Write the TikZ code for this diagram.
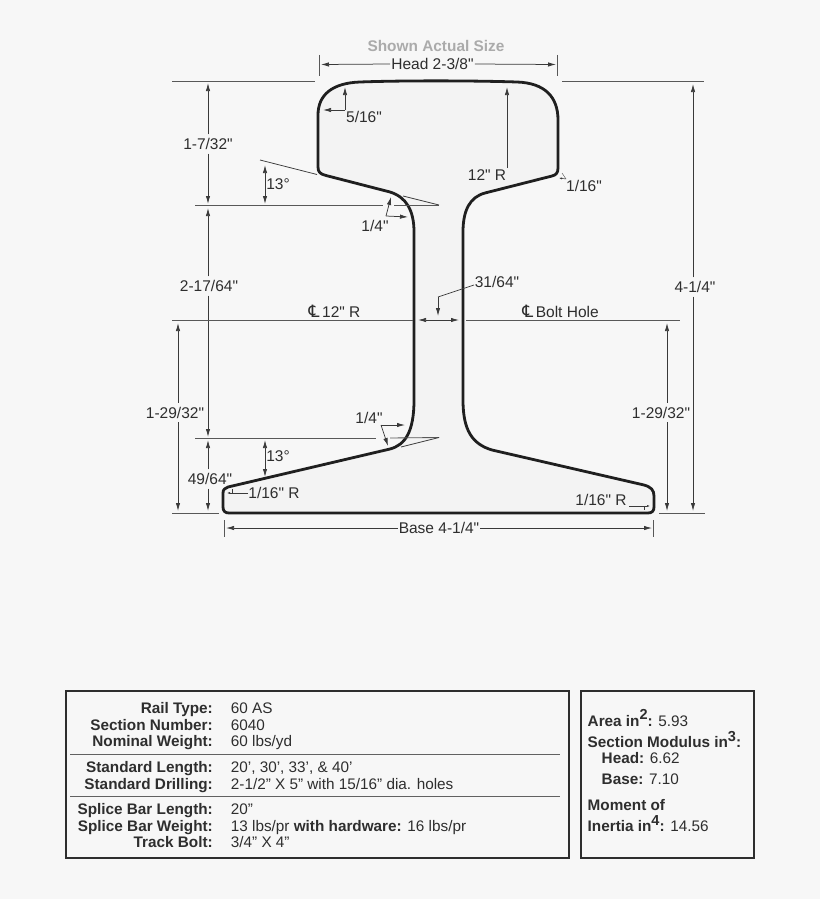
\documentclass[tikz,border=0pt]{standalone}
\usepackage{fontspec}
\newfontfamily\lsans{Liberation Sans}
\newfontfamily\clfont{DejaVu Sans}
\usetikzlibrary{arrows.meta}
\definecolor{bgc}{HTML}{F7F7F7}
\definecolor{railfill}{HTML}{F3F3F3}
\definecolor{ink}{HTML}{2E2E2E}
\definecolor{dimc}{HTML}{3A3A3A}
\newcommand{\sq}[1]{\raisebox{0.40em}{\fontsize{14.5}{15}\selectfont\bfseries #1}}
\newcommand{\cl}{{\clfont\fontsize{17}{17}\selectfont ℄}}
\tikzset{
  x=1pt,y=-1pt,
  lbl/.style={font=\lsans\fontsize{15.5}{17}\selectfont,text=ink,inner sep=1pt,outer ysep=3pt},
  key/.style={lbl,anchor=base east,font=\lsans\fontsize{15.3}{17}\selectfont\bfseries},
  val/.style={lbl,anchor=base west,font=\lsans\fontsize{15.3}{17}\selectfont},
  lft/.style={lbl,anchor=base west,font=\lsans\fontsize{15.3}{17}\selectfont},
  dimline/.style={draw=dimc,line width=0.75pt},
  ext/.style={draw=dimc!85,line width=0.85pt},
  tip/.style={dimline,-{Latex[length=8pt,width=4.4pt]}},
  tiptip/.style={dimline,{Latex[length=8pt,width=4.4pt]}-{Latex[length=8pt,width=4.4pt]}},
  smalltip/.style={draw=dimc,line width=0.5pt,-{Latex[length=3pt,width=2pt]}},
  railshape/.style={draw=black!88,line width=2.8pt,fill=railfill,line join=round},
  boxframe/.style={draw=ink,line width=1.9pt},
  rule/.style={draw=dimc!80,line width=0.85pt}
}
\begin{document}
\begin{tikzpicture}
\useasboundingbox[fill=bgc] (0,0) rectangle (820,899);
% rail
\path[railshape] (360,82) .. controls (400,80.5) and (470,80.5) .. (517,82)
 .. controls (545,83) and (558,97) .. (558,120) -- (558,168)
 .. controls (558,173) and (556,175) .. (552,176) -- (485,193)
 .. controls (470,197) and (463,210) .. (463,232) -- (463,400)
 .. controls (463,430) and (472,444) .. (492,450) -- (644,485)
 .. controls (651,487) and (654,490) .. (654,496) -- (654,507)
 .. controls (654,511) and (652,513) .. (648,513) -- (229,513)
 .. controls (225,513) and (223,511) .. (223,507) -- (223,493)
 .. controls (223,489.5) and (225,488) .. (228,487) -- (390,449)
 .. controls (405,445) and (414,432) .. (414,400) -- (414,232)
 .. controls (414,210) and (406,197) .. (390,192) -- (326,175.5)
 .. controls (320,174) and (318,172) .. (318,167) -- (318,115)
 .. controls (318,95) and (332,83) .. (360,82) -- cycle;
% coordinates
\coordinate (htl) at (319,55); \coordinate (hbl) at (319,76);
\coordinate (htr) at (557,55); \coordinate (hbr) at (557,76);
\coordinate (hl) at (321,64.5); \coordinate (hr) at (556,64.5);
\coordinate (tl1) at (172,81); \coordinate (tl2) at (315,81);
\coordinate (tr1) at (562,81); \coordinate (tr2) at (704,81);
\coordinate (a) at (208,83); \coordinate (b) at (208,204); \coordinate (c) at (208,208); \coordinate (d) at (208,437);
\coordinate (l1) at (195,205); \coordinate (l2) at (383,205); \coordinate (l3) at (394,205); \coordinate (l4) at (439,205);
\coordinate (s1) at (260,160); \coordinate (s2) at (317,174.5); \coordinate (s3) at (403,196); 
\coordinate (u1) at (265,165); \coordinate (u2) at (265,204);
\coordinate (fa) at (345,110); \coordinate (fb) at (323,110); \coordinate (fc) at (345,87);
\coordinate (qa) at (386,216); \coordinate (qb) at (391,197); \coordinate (qc) at (408,217);
\coordinate (m1) at (195,438); \coordinate (m2) at (376,438); \coordinate (m3) at (390,438); \coordinate (m4) at (439,437.5);
\coordinate (m5) at (401,447);
\coordinate (c1) at (172,320); \coordinate (c2) at (413,320); \coordinate (c3) at (466,320); \coordinate (c4) at (680,320);
\coordinate (w1) at (418,320); \coordinate (w2) at (459,320);
\coordinate (wa) at (474,285); \coordinate (wb) at (438,297); \coordinate (wc) at (438,316);
\coordinate (e) at (178,323); \coordinate (f) at (178,511); \coordinate (bl1) at (172,513); \coordinate (bl2) at (219,513);
\coordinate (g) at (208,440); \coordinate (h) at (208,511);
\coordinate (v1) at (265,440); \coordinate (v2) at (265,477);
\coordinate (ra) at (381,425); \coordinate (rb) at (405,425); \coordinate (rc) at (388,446);
\coordinate (ka) at (507,168); \coordinate (kb) at (507,87);
\coordinate (j) at (693,84); \coordinate (k) at (693,511); \coordinate (br1) at (659,513); \coordinate (br2) at (705,513);
\coordinate (n) at (667,323); \coordinate (o) at (667,511);
\coordinate (btl) at (224,520); \coordinate (bbl) at (224,537); \coordinate (btr) at (653,520); \coordinate (bbr) at (653,537);
\coordinate (bal) at (226,528); \coordinate (bar) at (652,528);
\coordinate (pa) at (248,493); \coordinate (pb) at (227,493); \coordinate (pc) at (232,489); \coordinate (pd) at (232,493);
\coordinate (ya) at (629,506); \coordinate (yb) at (650,506); \coordinate (yc) at (644,506); \coordinate (yd) at (644,510);
\coordinate (za) at (566,179); \coordinate (zb) at (559,178); \coordinate (zc) at (566,179); \coordinate (zd) at (562,173);
% labels
\node[font=\lsans\fontsize{15.4}{17}\selectfont\bfseries,text=black!33,inner sep=1pt] (title) at (436,46) {Shown Actual Size};
\node[lbl] (thead) at (432.5,64) {Head 2-3/8"};
\node[lbl] (t17) at (208,144) {1-7/32"};
\node[lbl] (t217) at (209,286) {2-17/64"};
\node[lbl] (t13a) at (278,184) {13°};
\node[lbl] (t516) at (364,117) {5/16"};
\node[lbl] (t14a) at (375,226) {1/4"};
\node[lbl] (t3164) at (497,282) {31/64"};
\node[lbl] (tcl1) at (334.5,311) {\cl\,12" R};
\node[lbl] (tcl2) at (560.5,311) {\cl\,Bolt Hole};
\node[lbl] (t129l) at (175,412.5) {1-29/32"};
\node[lbl] (t4964) at (210,479) {49/64"};
\node[lbl] (t13b) at (278,456) {13°};
\node[lbl] (t116r) at (274,493) {1/16" R};
\node[lbl] (t14b) at (369,418) {1/4"};
\node[lbl] (t12r) at (487,175) {12" R};
\node[lbl] (t116) at (584,186) {1/16"};
\node[lbl] (t414) at (695,287) {4-1/4"};
\node[lbl] (t129r) at (661,412.5) {1-29/32"};
\node[lbl] (tbase) at (439,528) {Base 4-1/4"};
\node[lbl] (t116b) at (601,500) {1/16" R};
% connectors
\draw[ext] (htl)--(hbl); \draw[ext] (htr)--(hbr);
\draw[tip] (thead.west)--(hl); \draw[tip] (thead.east)--(hr);
\draw[ext] (tl1)--(tl2); \draw[ext] (tr1)--(tr2);
\draw[tip] (t17.north-|a)--(a); \draw[tip] (t17.south-|a)--(b);
\draw[ext] (l1)--(l2); \draw[ext] (l3)--(l4);
\draw[dimline] (s1)--(s2); \draw[dimline] (s3)--(l4);
\draw[tiptip] (u1)--(u2);
\draw[tip] (fa)--(fb); \draw[tip] (fa)--(fc);
\draw[tip] (qa)--(qb); \draw[tip] (qa)--(qc);
\draw[tip] (t217.north-|c)--(c); \draw[tip] (t217.south-|c)--(d);
\draw[ext] (m1)--(m2); \draw[ext] (m3)--(m4); \draw[dimline] (m5)--(m4);
\draw[ext] (c1)--(c2); \draw[ext] (c3)--(c4);
\draw[tiptip] (w1)--(w2);
\draw[dimline] (wa)--(wb); \draw[tip] (wb)--(wc);
\draw[tip] (t129l.north-|e)--(e); \draw[tip] (t129l.south-|e)--(f);
\draw[ext] (bl1)--(bl2);
\draw[tip] (t4964.north-|g)--(g); \draw[tip] (t4964.south-|g)--(h);
\draw[tiptip] (v1)--(v2);
\draw[tip] (ra)--(rb); \draw[tip] (ra)--(rc);
\draw[tip] (ka)--(kb);
\draw[tip] (t414.north-|j)--(j); \draw[tip] (t414.south-|j)--(k);
\draw[ext] (br1)--(br2);
\draw[tip] (t129r.north-|n)--(n); \draw[tip] (t129r.south-|n)--(o);
\draw[ext] (btl)--(bbl); \draw[ext] (btr)--(bbr);
\draw[tip] (tbase.west)--(bal); \draw[tip] (tbase.east)--(bar);
\draw[smalltip] (pa)--(pb); \draw[draw=dimc,line width=0.4pt] (pc)--(pd);
\draw[smalltip] (ya)--(yb); \draw[draw=dimc,line width=0.4pt] (yc)--(yd);
\draw[smalltip] (za)--(zb); \draw[draw=dimc,line width=0.4pt] (zc)--(zd);
% left table
\path[boxframe] (66,691) rectangle (569,858);
\path[rule] (70,754)--(560,754);
\path[rule] (70,796.5)--(560,796.5);
\node[key] (k1) at (214,713.3) {Rail Type:}; \node[val] (v1t) at (229.7,713.3) {60 AS};
\node[key] (k2) at (214,730) {Section Number:}; \node[val] (v2t) at (229.7,730) {6040};
\node[key] (k3) at (214,746.7) {Nominal Weight:}; \node[val] (v3t) at (229.7,746.7) {60 lbs/yd};
\node[key] (k4) at (214,772.3) {Standard Length:}; \node[val] (v4t) at (229.7,772.3) {20’, 30’, 33’, \& 40’};
\node[key] (k5) at (214,789) {Standard Drilling:}; \node[val] (v5t) at (229.7,789) {2-1/2” X 5” with 15/16” dia. holes};
\node[key] (k6) at (214,814) {Splice Bar Length:}; \node[val] (v6t) at (229.7,814) {20”};
\node[key] (k7) at (214,831) {Splice Bar Weight:}; \node[val] (v7t) at (229.7,831) {13 lbs/pr \textbf{with hardware:} 16 lbs/pr};
\node[key] (k8) at (214,847.7) {Track Bolt:}; \node[val] (v8t) at (229.7,847.7) {3/4” X 4”};
% right table
\path[boxframe] (581,691) rectangle (754,858);
\node[lft] (r1) at (586.5,726) {\textbf{Area in\sq{2}:} 5.93};
\node[lft] (r2) at (586.5,747.3) {\textbf{Section Modulus in\sq{3}:}};
\node[lft] (r3) at (600.5,763.3) {\textbf{Head:} 6.62};
\node[lft] (r4) at (600.5,784.7) {\textbf{Base:} 7.10};
\node[lft] (r5) at (586.5,810.7) {\textbf{Moment of}};
\node[lft] (r6) at (586.5,831.7) {\textbf{Inertia in\sq{4}:} 14.56};
\end{tikzpicture}
\end{document}
